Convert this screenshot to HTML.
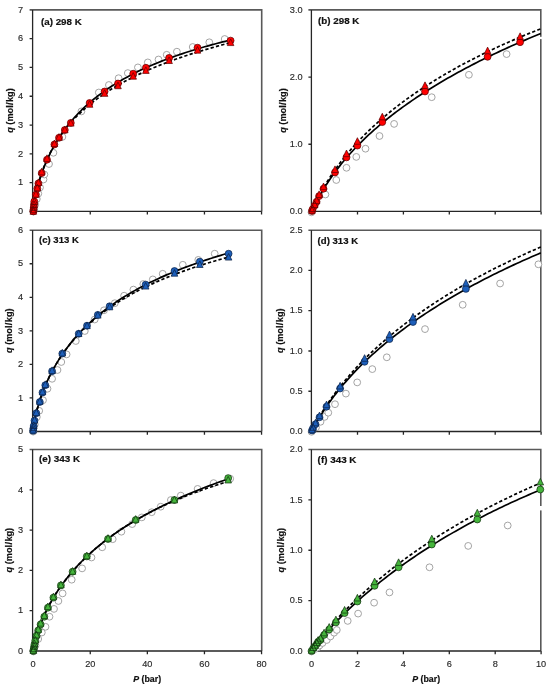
<!DOCTYPE html>
<html><head><meta charset="utf-8"><title>Isotherms</title><style>html,body{margin:0;padding:0;background:#fff;}svg{display:block;}</style></head><body>
<svg width="550" height="689" viewBox="0 0 550 689">
<rect width="550" height="689" fill="#fff"/>
<g><path d="M29.60 9.90 H261.70 V211.40" fill="none" stroke="#595959" stroke-width="1.6"/><path d="M29.60 211.40H32.60M29.60 182.61H32.60M29.60 153.83H32.60M29.60 125.04H32.60M29.60 96.26H32.60M29.60 67.47H32.60M29.60 38.69H32.60" stroke="#262626" stroke-width="1.3"/><path d="M90.25 211.40V214.60M147.35 211.40V214.60M204.45 211.40V214.60M261.55 211.40V214.60" stroke="#262626" stroke-width="1.3"/><path d="M32.60 9.90 V211.40 H261.70" fill="none" stroke="#262626" stroke-width="1.3"/><text x="23.20" y="214.10" text-anchor="end" font-family="Liberation Sans, sans-serif" font-size="9.2" fill="#2a2a2a" stroke="#2a2a2a" stroke-width="0.15">0</text><text x="23.20" y="185.31" text-anchor="end" font-family="Liberation Sans, sans-serif" font-size="9.2" fill="#2a2a2a" stroke="#2a2a2a" stroke-width="0.15">1</text><text x="23.20" y="156.53" text-anchor="end" font-family="Liberation Sans, sans-serif" font-size="9.2" fill="#2a2a2a" stroke="#2a2a2a" stroke-width="0.15">2</text><text x="23.20" y="127.74" text-anchor="end" font-family="Liberation Sans, sans-serif" font-size="9.2" fill="#2a2a2a" stroke="#2a2a2a" stroke-width="0.15">3</text><text x="23.20" y="98.96" text-anchor="end" font-family="Liberation Sans, sans-serif" font-size="9.2" fill="#2a2a2a" stroke="#2a2a2a" stroke-width="0.15">4</text><text x="23.20" y="70.17" text-anchor="end" font-family="Liberation Sans, sans-serif" font-size="9.2" fill="#2a2a2a" stroke="#2a2a2a" stroke-width="0.15">5</text><text x="23.20" y="41.39" text-anchor="end" font-family="Liberation Sans, sans-serif" font-size="9.2" fill="#2a2a2a" stroke="#2a2a2a" stroke-width="0.15">6</text><text x="23.20" y="12.60" text-anchor="end" font-family="Liberation Sans, sans-serif" font-size="9.2" fill="#2a2a2a" stroke="#2a2a2a" stroke-width="0.15">7</text><text transform="translate(12.50 132.85) rotate(-90)" font-size="9.2" font-family="Liberation Sans, sans-serif" font-weight="bold" fill="#111" stroke="#111" stroke-width="0.2"><tspan font-style="italic">q</tspan> (mol<tspan dx="0.35">/</tspan><tspan dx="0.35">kg)</tspan></text><text x="41.00" y="25.00" font-size="9.8" textLength="40.7" lengthAdjust="spacingAndGlyphs" font-family="Liberation Sans, sans-serif" font-weight="bold" fill="#111" stroke="#111" stroke-width="0.2">(a) 298 K</text><g fill="#fff" stroke="#9a9a9a" stroke-width="0.9"><circle cx="33.40" cy="211.60" r="3.4"/><circle cx="34.20" cy="208.50" r="3.4"/><circle cx="35.20" cy="204.50" r="3.4"/><circle cx="36.80" cy="199.00" r="3.4"/><circle cx="38.30" cy="193.60" r="3.4"/><circle cx="40.00" cy="187.50" r="3.4"/><circle cx="43.50" cy="179.50" r="3.4"/><circle cx="44.40" cy="174.50" r="3.4"/><circle cx="49.00" cy="164.00" r="3.4"/><circle cx="53.40" cy="152.80" r="3.4"/><circle cx="62.40" cy="136.90" r="3.4"/><circle cx="81.40" cy="111.40" r="3.4"/><circle cx="98.80" cy="92.50" r="3.4"/><circle cx="108.90" cy="85.00" r="3.4"/><circle cx="118.60" cy="78.20" r="3.4"/><circle cx="127.80" cy="73.10" r="3.4"/><circle cx="137.90" cy="67.40" r="3.4"/><circle cx="147.80" cy="62.40" r="3.4"/><circle cx="158.50" cy="59.50" r="3.4"/><circle cx="166.70" cy="54.80" r="3.4"/><circle cx="176.90" cy="51.70" r="3.4"/><circle cx="192.70" cy="47.00" r="3.4"/><circle cx="209.30" cy="42.30" r="3.4"/><circle cx="224.70" cy="39.00" r="3.4"/></g><path d="M33.15 211.40 L33.24 209.89 L33.44 207.96 L33.70 205.86 L34.02 203.66 L34.39 201.37 L34.81 199.04 L35.27 196.68 L35.78 194.29 L36.32 191.89 L36.90 189.48 L37.52 187.07 L38.18 184.66 L38.86 182.26 L39.58 179.88 L40.33 177.50 L41.11 175.14 L41.93 172.80 L42.77 170.48 L43.64 168.18 L44.53 165.91 L45.46 163.65 L46.41 161.42 L47.38 159.21 L48.39 157.03 L49.42 154.87 L50.47 152.74 L51.55 150.64 L52.65 148.56 L53.78 146.51 L54.93 144.48 L56.10 142.48 L57.29 140.51 L58.51 138.56 L59.75 136.64 L61.02 134.74 L62.30 132.87 L63.61 131.02 L64.94 129.20 L66.28 127.41 L67.65 125.64 L69.05 123.89 L70.46 122.17 L71.89 120.47 L73.34 118.80 L74.81 117.15 L76.30 115.52 L77.81 113.91 L79.34 112.33 L80.89 110.77 L82.46 109.23 L84.05 107.71 L85.65 106.21 L87.28 104.73 L88.92 103.28 L90.58 101.84 L92.26 100.42 L93.96 99.03 L95.68 97.65 L97.41 96.29 L99.16 94.95 L100.93 93.63 L102.72 92.33 L104.52 91.04 L106.34 89.77 L108.18 88.52 L110.04 87.28 L111.91 86.07 L113.80 84.86 L115.70 83.68 L117.63 82.51 L119.57 81.35 L121.52 80.21 L123.49 79.09 L125.48 77.98 L127.49 76.88 L129.51 75.80 L131.54 74.73 L133.60 73.68 L135.66 72.64 L137.75 71.61 L139.85 70.60 L141.96 69.60 L144.09 68.61 L146.24 67.64 L148.40 66.67 L150.58 65.72 L152.77 64.78 L154.98 63.86 L157.20 62.94 L159.44 62.04 L161.69 61.14 L163.96 60.26 L166.24 59.39 L168.54 58.53 L170.85 57.68 L173.18 56.84 L175.52 56.01 L177.88 55.18 L180.25 54.37 L182.63 53.57 L185.03 52.78 L187.44 52.00 L189.87 51.22 L192.31 50.46 L194.77 49.70 L197.24 48.96 L199.72 48.22 L202.22 47.49 L204.73 46.77 L207.25 46.06 L209.79 45.35 L212.35 44.65 L214.91 43.96 L217.49 43.28 L220.09 42.61 L222.70 41.94 L225.32 41.28 L227.95 40.63 L230.60 39.98" fill="none" stroke="#000" stroke-width="1.7"/><path d="M33.15 211.40 L33.24 210.45 L33.44 208.76 L33.70 206.73 L34.02 204.48 L34.39 202.11 L34.81 199.65 L35.27 197.14 L35.78 194.61 L36.32 192.06 L36.90 189.52 L37.52 186.98 L38.18 184.46 L38.86 181.97 L39.58 179.50 L40.33 177.05 L41.11 174.64 L41.93 172.26 L42.77 169.91 L43.64 167.59 L44.53 165.31 L45.46 163.06 L46.41 160.85 L47.38 158.67 L48.39 156.52 L49.42 154.40 L50.47 152.32 L51.55 150.28 L52.65 148.26 L53.78 146.27 L54.93 144.32 L56.10 142.39 L57.29 140.50 L58.51 138.63 L59.75 136.80 L61.02 134.99 L62.30 133.21 L63.61 131.45 L64.94 129.72 L66.28 128.02 L67.65 126.34 L69.05 124.69 L70.46 123.06 L71.89 121.46 L73.34 119.88 L74.81 118.32 L76.30 116.78 L77.81 115.26 L79.34 113.77 L80.89 112.29 L82.46 110.84 L84.05 109.41 L85.65 107.99 L87.28 106.59 L88.92 105.22 L90.58 103.86 L92.26 102.52 L93.96 101.19 L95.68 99.89 L97.41 98.60 L99.16 97.32 L100.93 96.07 L102.72 94.83 L104.52 93.60 L106.34 92.39 L108.18 91.19 L110.04 90.01 L111.91 88.84 L113.80 87.69 L115.70 86.55 L117.63 85.42 L119.57 84.31 L121.52 83.21 L123.49 82.12 L125.48 81.05 L127.49 79.99 L129.51 78.94 L131.54 77.90 L133.60 76.87 L135.66 75.85 L137.75 74.85 L139.85 73.86 L141.96 72.87 L144.09 71.90 L146.24 70.94 L148.40 69.99 L150.58 69.05 L152.77 68.12 L154.98 67.19 L157.20 66.28 L159.44 65.38 L161.69 64.48 L163.96 63.60 L166.24 62.72 L168.54 61.86 L170.85 61.00 L173.18 60.15 L175.52 59.31 L177.88 58.48 L180.25 57.65 L182.63 56.83 L185.03 56.02 L187.44 55.22 L189.87 54.43 L192.31 53.64 L194.77 52.86 L197.24 52.09 L199.72 51.33 L202.22 50.57 L204.73 49.82 L207.25 49.08 L209.79 48.34 L212.35 47.61 L214.91 46.89 L217.49 46.17 L220.09 45.46 L222.70 44.75 L225.32 44.05 L227.95 43.36 L230.60 42.68" fill="none" stroke="#000" stroke-width="1.7" stroke-dasharray="3.3 2.2"/><g fill="#ff0000" stroke="#5a0000" stroke-width="0.7"><circle cx="33.30" cy="211.30" r="3.45"/><circle cx="33.50" cy="209.60" r="3.45"/><circle cx="33.80" cy="207.20" r="3.45"/><circle cx="34.00" cy="204.40" r="3.45"/><circle cx="34.30" cy="201.50" r="3.45"/><circle cx="35.90" cy="194.60" r="3.45"/><circle cx="37.30" cy="188.60" r="3.45"/><circle cx="38.40" cy="183.40" r="3.45"/><circle cx="41.70" cy="173.10" r="3.45"/><circle cx="47.00" cy="159.70" r="3.45"/><circle cx="54.40" cy="144.50" r="3.45"/><circle cx="59.00" cy="137.80" r="3.45"/><circle cx="64.80" cy="130.00" r="3.45"/><circle cx="70.80" cy="122.90" r="3.45"/><circle cx="89.60" cy="103.00" r="3.45"/><circle cx="104.60" cy="91.50" r="3.45"/><circle cx="118.00" cy="83.50" r="3.45"/><circle cx="133.20" cy="73.70" r="3.45"/><circle cx="145.90" cy="67.80" r="3.45"/><circle cx="169.10" cy="57.90" r="3.45"/><circle cx="197.50" cy="47.70" r="3.45"/><circle cx="230.60" cy="40.60" r="3.45"/></g><path d="M30.00 214.26L33.30 207.66L36.60 214.26ZM30.20 212.73L33.50 206.13L36.80 212.73ZM30.50 210.36L33.80 203.76L37.10 210.36ZM30.70 207.53L34.00 200.93L37.30 207.53ZM31.00 204.56L34.30 197.96L37.60 204.56ZM32.60 197.19L35.90 190.59L39.20 197.19ZM34.00 190.86L37.30 184.26L40.60 190.86ZM35.10 185.47L38.40 178.87L41.70 185.47ZM38.40 174.86L41.70 168.26L45.00 174.86ZM43.70 161.44L47.00 154.84L50.30 161.44ZM51.10 146.60L54.40 140.00L57.70 146.60ZM55.70 140.21L59.00 133.61L62.30 140.21ZM61.50 132.81L64.80 126.21L68.10 132.81ZM67.50 126.12L70.80 119.52L74.10 126.12ZM86.30 107.27L89.60 100.67L92.90 107.27ZM101.30 96.36L104.60 89.76L107.90 96.36ZM114.70 88.73L118.00 82.13L121.30 88.73ZM129.90 79.18L133.20 72.58L136.50 79.18ZM142.60 73.40L145.90 66.80L149.20 73.40ZM165.80 63.53L169.10 56.93L172.40 63.53ZM194.20 53.13L197.50 46.53L200.80 53.13ZM227.30 45.59L230.60 38.99L233.90 45.59Z" fill="#ff0000" stroke="#5a0000" stroke-width="0.7"/></g>
<g><path d="M308.40 9.90 H540.80 V211.40" fill="none" stroke="#595959" stroke-width="1.6"/><path d="M308.40 211.40H311.40M308.40 144.23H311.40M308.40 77.07H311.40" stroke="#262626" stroke-width="1.3"/><path d="M357.50 211.40V214.60M403.40 211.40V214.60M449.30 211.40V214.60M495.20 211.40V214.60M541.10 211.40V214.60" stroke="#262626" stroke-width="1.3"/><path d="M311.40 9.90 V211.40 H540.80" fill="none" stroke="#262626" stroke-width="1.3"/><text x="302.60" y="214.10" text-anchor="end" font-family="Liberation Sans, sans-serif" font-size="9.2" fill="#2a2a2a" stroke="#2a2a2a" stroke-width="0.15">0.0</text><text x="302.60" y="146.93" text-anchor="end" font-family="Liberation Sans, sans-serif" font-size="9.2" fill="#2a2a2a" stroke="#2a2a2a" stroke-width="0.15">1.0</text><text x="302.60" y="79.77" text-anchor="end" font-family="Liberation Sans, sans-serif" font-size="9.2" fill="#2a2a2a" stroke="#2a2a2a" stroke-width="0.15">2.0</text><text x="302.60" y="12.60" text-anchor="end" font-family="Liberation Sans, sans-serif" font-size="9.2" fill="#2a2a2a" stroke="#2a2a2a" stroke-width="0.15">3.0</text><text transform="translate(286.20 132.85) rotate(-90)" font-size="9.2" font-family="Liberation Sans, sans-serif" font-weight="bold" fill="#111" stroke="#111" stroke-width="0.2"><tspan font-style="italic">q</tspan> (mol<tspan dx="0.35">/</tspan><tspan dx="0.35">kg)</tspan></text><text x="318.10" y="24.20" font-size="9.8" textLength="41.3" lengthAdjust="spacingAndGlyphs" font-family="Liberation Sans, sans-serif" font-weight="bold" fill="#111" stroke="#111" stroke-width="0.2">(b) 298 K</text><g fill="#fff" stroke="#9a9a9a" stroke-width="0.9"><circle cx="311.50" cy="212.30" r="3.4"/><circle cx="325.40" cy="194.50" r="3.4"/><circle cx="336.30" cy="180.00" r="3.4"/><circle cx="346.50" cy="167.80" r="3.4"/><circle cx="356.30" cy="156.90" r="3.4"/><circle cx="365.50" cy="148.70" r="3.4"/><circle cx="379.50" cy="136.00" r="3.4"/><circle cx="394.10" cy="123.90" r="3.4"/><circle cx="431.70" cy="97.20" r="3.4"/><circle cx="468.90" cy="74.80" r="3.4"/><circle cx="506.60" cy="54.10" r="3.4"/></g><path d="M311.60 211.40 L311.71 211.17 L311.93 210.70 L312.23 210.06 L312.61 209.28 L313.04 208.39 L313.52 207.40 L314.06 206.31 L314.65 205.14 L315.28 203.90 L315.96 202.59 L316.68 201.23 L317.43 199.81 L318.23 198.34 L319.07 196.83 L319.94 195.28 L320.85 193.70 L321.79 192.09 L322.76 190.45 L323.77 188.79 L324.81 187.11 L325.89 185.41 L326.99 183.70 L328.12 181.97 L329.29 180.23 L330.48 178.48 L331.70 176.73 L332.96 174.96 L334.24 173.20 L335.54 171.43 L336.88 169.66 L338.24 167.88 L339.63 166.11 L341.04 164.33 L342.48 162.56 L343.95 160.79 L345.44 159.02 L346.96 157.26 L348.50 155.49 L350.06 153.74 L351.65 151.98 L353.27 150.23 L354.91 148.49 L356.57 146.75 L358.25 145.02 L359.96 143.29 L361.69 141.57 L363.44 139.85 L365.22 138.14 L367.02 136.44 L368.84 134.74 L370.68 133.05 L372.55 131.37 L374.43 129.69 L376.34 128.02 L378.27 126.35 L380.22 124.70 L382.19 123.05 L384.18 121.40 L386.19 119.76 L388.23 118.13 L390.28 116.51 L392.35 114.89 L394.45 113.28 L396.56 111.68 L398.70 110.08 L400.85 108.49 L403.02 106.91 L405.22 105.33 L407.43 103.76 L409.66 102.20 L411.91 100.64 L414.18 99.09 L416.47 97.55 L418.78 96.01 L421.11 94.48 L423.45 92.96 L425.82 91.44 L428.20 89.93 L430.60 88.43 L433.02 86.93 L435.46 85.44 L437.91 83.96 L440.38 82.48 L442.88 81.01 L445.39 79.55 L447.91 78.09 L450.46 76.64 L453.02 75.19 L455.60 73.75 L458.20 72.32 L460.81 70.90 L463.44 69.48 L466.09 68.07 L468.76 66.66 L471.44 65.26 L474.14 63.87 L476.86 62.48 L479.60 61.10 L482.35 59.72 L485.12 58.35 L487.90 56.99 L490.70 55.64 L493.52 54.29 L496.35 52.94 L499.20 51.61 L502.07 50.28 L504.95 48.95 L507.85 47.63 L510.77 46.32 L513.70 45.01 L516.65 43.72 L519.61 42.42 L522.59 41.13 L525.59 39.85 L528.60 38.58 L531.63 37.31 L534.67 36.05 L537.73 34.79 L540.80 33.54" fill="none" stroke="#000" stroke-width="1.7"/><path d="M311.60 211.40 L311.71 211.15 L311.93 210.65 L312.23 209.97 L312.61 209.15 L313.04 208.20 L313.52 207.14 L314.06 205.98 L314.65 204.74 L315.28 203.42 L315.96 202.04 L316.68 200.59 L317.43 199.08 L318.23 197.53 L319.07 195.93 L319.94 194.29 L320.85 192.61 L321.79 190.91 L322.76 189.17 L323.77 187.42 L324.81 185.64 L325.89 183.84 L326.99 182.03 L328.12 180.20 L329.29 178.37 L330.48 176.52 L331.70 174.67 L332.96 172.81 L334.24 170.95 L335.54 169.09 L336.88 167.22 L338.24 165.35 L339.63 163.49 L341.04 161.62 L342.48 159.76 L343.95 157.90 L345.44 156.04 L346.96 154.19 L348.50 152.34 L350.06 150.50 L351.65 148.66 L353.27 146.83 L354.91 145.00 L356.57 143.18 L358.25 141.37 L359.96 139.57 L361.69 137.77 L363.44 135.98 L365.22 134.20 L367.02 132.42 L368.84 130.65 L370.68 128.89 L372.55 127.14 L374.43 125.40 L376.34 123.66 L378.27 121.94 L380.22 120.22 L382.19 118.51 L384.18 116.81 L386.19 115.12 L388.23 113.43 L390.28 111.76 L392.35 110.09 L394.45 108.43 L396.56 106.78 L398.70 105.14 L400.85 103.50 L403.02 101.88 L405.22 100.26 L407.43 98.65 L409.66 97.05 L411.91 95.46 L414.18 93.88 L416.47 92.31 L418.78 90.74 L421.11 89.19 L423.45 87.64 L425.82 86.10 L428.20 84.57 L430.60 83.04 L433.02 81.53 L435.46 80.02 L437.91 78.52 L440.38 77.03 L442.88 75.55 L445.39 74.08 L447.91 72.61 L450.46 71.16 L453.02 69.71 L455.60 68.27 L458.20 66.84 L460.81 65.41 L463.44 64.00 L466.09 62.59 L468.76 61.19 L471.44 59.80 L474.14 58.41 L476.86 57.04 L479.60 55.67 L482.35 54.31 L485.12 52.96 L487.90 51.61 L490.70 50.28 L493.52 48.95 L496.35 47.63 L499.20 46.32 L502.07 45.01 L504.95 43.72 L507.85 42.43 L510.77 41.15 L513.70 39.87 L516.65 38.61 L519.61 37.35 L522.59 36.10 L525.59 34.85 L528.60 33.62 L531.63 32.39 L534.67 31.17 L537.73 29.96 L540.80 28.75" fill="none" stroke="#000" stroke-width="1.7" stroke-dasharray="3.3 2.2"/><g fill="#ff0000" stroke="#5a0000" stroke-width="0.7"><circle cx="312.00" cy="211.00" r="3.45"/><circle cx="312.60" cy="209.30" r="3.45"/><circle cx="314.70" cy="205.60" r="3.45"/><circle cx="316.60" cy="201.80" r="3.45"/><circle cx="319.10" cy="196.10" r="3.45"/><circle cx="323.50" cy="188.70" r="3.45"/><circle cx="335.00" cy="172.50" r="3.45"/><circle cx="346.50" cy="157.40" r="3.45"/><circle cx="357.40" cy="145.60" r="3.45"/><circle cx="382.30" cy="122.10" r="3.45"/><circle cx="425.00" cy="91.50" r="3.45"/><circle cx="487.60" cy="56.80" r="3.45"/><circle cx="520.10" cy="42.20" r="3.45"/></g><path d="M308.70 213.25L312.00 206.65L315.30 213.25ZM309.30 211.46L312.60 204.86L315.90 211.46ZM311.40 207.50L314.70 200.90L318.00 207.50ZM313.30 203.47L316.60 196.87L319.90 203.47ZM315.80 197.49L319.10 190.89L322.40 197.49ZM320.20 189.65L323.50 183.05L326.80 189.65ZM331.70 172.50L335.00 165.90L338.30 172.50ZM343.20 156.66L346.50 150.06L349.80 156.66ZM354.10 144.29L357.40 137.69L360.70 144.29ZM379.00 119.86L382.30 113.26L385.60 119.86ZM421.70 88.46L425.00 81.86L428.30 88.46ZM484.30 53.72L487.60 47.12L490.90 53.72ZM516.80 39.43L520.10 32.83L523.40 39.43Z" fill="#ff0000" stroke="#5a0000" stroke-width="0.7"/></g>
<g><path d="M29.60 230.20 H261.70 V431.50" fill="none" stroke="#595959" stroke-width="1.6"/><path d="M29.60 431.50H32.60M29.60 397.95H32.60M29.60 364.40H32.60M29.60 330.85H32.60M29.60 297.30H32.60M29.60 263.75H32.60" stroke="#262626" stroke-width="1.3"/><path d="M90.25 431.50V434.70M147.35 431.50V434.70M204.45 431.50V434.70M261.55 431.50V434.70" stroke="#262626" stroke-width="1.3"/><path d="M32.60 230.20 V431.50 H261.70" fill="none" stroke="#262626" stroke-width="1.3"/><text x="23.20" y="434.20" text-anchor="end" font-family="Liberation Sans, sans-serif" font-size="9.2" fill="#2a2a2a" stroke="#2a2a2a" stroke-width="0.15">0</text><text x="23.20" y="400.65" text-anchor="end" font-family="Liberation Sans, sans-serif" font-size="9.2" fill="#2a2a2a" stroke="#2a2a2a" stroke-width="0.15">1</text><text x="23.20" y="367.10" text-anchor="end" font-family="Liberation Sans, sans-serif" font-size="9.2" fill="#2a2a2a" stroke="#2a2a2a" stroke-width="0.15">2</text><text x="23.20" y="333.55" text-anchor="end" font-family="Liberation Sans, sans-serif" font-size="9.2" fill="#2a2a2a" stroke="#2a2a2a" stroke-width="0.15">3</text><text x="23.20" y="300.00" text-anchor="end" font-family="Liberation Sans, sans-serif" font-size="9.2" fill="#2a2a2a" stroke="#2a2a2a" stroke-width="0.15">4</text><text x="23.20" y="266.45" text-anchor="end" font-family="Liberation Sans, sans-serif" font-size="9.2" fill="#2a2a2a" stroke="#2a2a2a" stroke-width="0.15">5</text><text x="23.20" y="232.90" text-anchor="end" font-family="Liberation Sans, sans-serif" font-size="9.2" fill="#2a2a2a" stroke="#2a2a2a" stroke-width="0.15">6</text><text transform="translate(12.40 353.05) rotate(-90)" font-size="9.2" font-family="Liberation Sans, sans-serif" font-weight="bold" fill="#111" stroke="#111" stroke-width="0.2"><tspan font-style="italic">q</tspan> (mol<tspan dx="0.35">/</tspan><tspan dx="0.35">kg)</tspan></text><text x="39.00" y="242.90" font-size="9.8" textLength="39.8" lengthAdjust="spacingAndGlyphs" font-family="Liberation Sans, sans-serif" font-weight="bold" fill="#111" stroke="#111" stroke-width="0.2">(c) 313 K</text><g fill="#fff" stroke="#9a9a9a" stroke-width="0.9"><circle cx="33.20" cy="431.60" r="3.4"/><circle cx="34.80" cy="424.50" r="3.4"/><circle cx="36.80" cy="417.00" r="3.4"/><circle cx="39.20" cy="410.80" r="3.4"/><circle cx="43.00" cy="400.20" r="3.4"/><circle cx="47.50" cy="388.70" r="3.4"/><circle cx="52.10" cy="378.80" r="3.4"/><circle cx="57.50" cy="370.00" r="3.4"/><circle cx="61.30" cy="362.00" r="3.4"/><circle cx="66.60" cy="354.40" r="3.4"/><circle cx="75.80" cy="341.00" r="3.4"/><circle cx="84.80" cy="331.00" r="3.4"/><circle cx="94.70" cy="319.50" r="3.4"/><circle cx="104.00" cy="310.30" r="3.4"/><circle cx="114.80" cy="303.20" r="3.4"/><circle cx="124.10" cy="295.70" r="3.4"/><circle cx="133.40" cy="289.60" r="3.4"/><circle cx="143.30" cy="284.00" r="3.4"/><circle cx="152.80" cy="279.40" r="3.4"/><circle cx="162.70" cy="273.80" r="3.4"/><circle cx="182.80" cy="264.80" r="3.4"/><circle cx="198.30" cy="259.90" r="3.4"/><circle cx="214.70" cy="253.70" r="3.4"/></g><path d="M33.15 431.50 L33.24 430.01 L33.43 428.15 L33.69 426.14 L34.01 424.03 L34.38 421.86 L34.79 419.64 L35.25 417.38 L35.75 415.11 L36.29 412.82 L36.87 410.52 L37.48 408.21 L38.13 405.91 L38.81 403.61 L39.52 401.31 L40.26 399.02 L41.03 396.75 L41.84 394.48 L42.67 392.23 L43.53 389.99 L44.42 387.77 L45.33 385.56 L46.27 383.38 L47.24 381.21 L48.23 379.06 L49.25 376.93 L50.29 374.82 L51.36 372.72 L52.45 370.65 L53.57 368.60 L54.71 366.57 L55.87 364.57 L57.05 362.58 L58.26 360.61 L59.48 358.67 L60.73 356.74 L62.01 354.84 L63.30 352.96 L64.61 351.10 L65.95 349.26 L67.31 347.44 L68.68 345.64 L70.08 343.86 L71.50 342.10 L72.93 340.36 L74.39 338.64 L75.86 336.94 L77.36 335.26 L78.87 333.60 L80.41 331.96 L81.96 330.34 L83.53 328.74 L85.12 327.15 L86.73 325.59 L88.36 324.04 L90.00 322.51 L91.66 321.00 L93.34 319.50 L95.04 318.03 L96.76 316.56 L98.49 315.12 L100.24 313.69 L102.01 312.28 L103.80 310.89 L105.60 309.51 L107.42 308.15 L109.26 306.80 L111.11 305.47 L112.98 304.16 L114.87 302.85 L116.77 301.57 L118.69 300.30 L120.63 299.04 L122.58 297.80 L124.55 296.57 L126.53 295.35 L128.53 294.15 L130.55 292.96 L132.58 291.79 L134.63 290.62 L136.69 289.47 L138.77 288.34 L140.86 287.21 L142.97 286.10 L145.10 285.00 L147.24 283.91 L149.39 282.84 L151.56 281.78 L153.75 280.72 L155.95 279.68 L158.16 278.65 L160.39 277.63 L162.64 276.62 L164.89 275.63 L167.17 274.64 L169.46 273.66 L171.76 272.70 L174.08 271.74 L176.41 270.80 L178.76 269.86 L181.12 268.94 L183.49 268.02 L185.88 267.11 L188.28 266.21 L190.70 265.33 L193.13 264.45 L195.57 263.58 L198.03 262.71 L200.50 261.86 L202.99 261.02 L205.49 260.18 L208.00 259.35 L210.53 258.53 L213.07 257.72 L215.63 256.92 L218.19 256.13 L220.78 255.34 L223.37 254.56 L225.98 253.79 L228.60 253.02" fill="none" stroke="#000" stroke-width="1.7"/><path d="M33.15 431.50 L33.24 430.06 L33.43 428.23 L33.69 426.23 L34.01 424.13 L34.38 421.96 L34.79 419.74 L35.25 417.48 L35.75 415.20 L36.29 412.90 L36.87 410.59 L37.48 408.27 L38.13 405.95 L38.81 403.64 L39.52 401.33 L40.26 399.03 L41.03 396.75 L41.84 394.47 L42.67 392.21 L43.53 389.97 L44.42 387.74 L45.33 385.53 L46.27 383.34 L47.24 381.17 L48.23 379.02 L49.25 376.89 L50.29 374.78 L51.36 372.70 L52.45 370.64 L53.57 368.59 L54.71 366.58 L55.87 364.58 L57.05 362.61 L58.26 360.65 L59.48 358.73 L60.73 356.82 L62.01 354.94 L63.30 353.08 L64.61 351.24 L65.95 349.42 L67.31 347.63 L68.68 345.85 L70.08 344.10 L71.50 342.37 L72.93 340.67 L74.39 338.98 L75.86 337.31 L77.36 335.67 L78.87 334.04 L80.41 332.44 L81.96 330.85 L83.53 329.29 L85.12 327.75 L86.73 326.22 L88.36 324.71 L90.00 323.22 L91.66 321.75 L93.34 320.30 L95.04 318.87 L96.76 317.45 L98.49 316.06 L100.24 314.68 L102.01 313.31 L103.80 311.97 L105.60 310.64 L107.42 309.32 L109.26 308.02 L111.11 306.74 L112.98 305.48 L114.87 304.23 L116.77 302.99 L118.69 301.77 L120.63 300.57 L122.58 299.37 L124.55 298.20 L126.53 297.04 L128.53 295.89 L130.55 294.75 L132.58 293.63 L134.63 292.52 L136.69 291.43 L138.77 290.34 L140.86 289.27 L142.97 288.22 L145.10 287.17 L147.24 286.14 L149.39 285.12 L151.56 284.11 L153.75 283.11 L155.95 282.13 L158.16 281.15 L160.39 280.19 L162.64 279.24 L164.89 278.30 L167.17 277.37 L169.46 276.45 L171.76 275.54 L174.08 274.64 L176.41 273.75 L178.76 272.87 L181.12 272.00 L183.49 271.14 L185.88 270.28 L188.28 269.44 L190.70 268.61 L193.13 267.79 L195.57 266.97 L198.03 266.16 L200.50 265.37 L202.99 264.58 L205.49 263.80 L208.00 263.03 L210.53 262.26 L213.07 261.50 L215.63 260.76 L218.19 260.02 L220.78 259.28 L223.37 258.56 L225.98 257.84 L228.60 257.13" fill="none" stroke="#000" stroke-width="1.7" stroke-dasharray="3.3 2.2"/><g fill="#1d5fba" stroke="#0a1f44" stroke-width="0.7"><circle cx="33.10" cy="430.70" r="3.45"/><circle cx="33.40" cy="428.30" r="3.45"/><circle cx="33.70" cy="426.00" r="3.45"/><circle cx="34.50" cy="420.60" r="3.45"/><circle cx="36.30" cy="413.20" r="3.45"/><circle cx="39.80" cy="402.00" r="3.45"/><circle cx="42.50" cy="392.50" r="3.45"/><circle cx="45.30" cy="385.20" r="3.45"/><circle cx="52.10" cy="371.20" r="3.45"/><circle cx="62.30" cy="353.60" r="3.45"/><circle cx="78.70" cy="333.80" r="3.45"/><circle cx="87.00" cy="325.70" r="3.45"/><circle cx="97.80" cy="314.90" r="3.45"/><circle cx="109.60" cy="306.30" r="3.45"/><circle cx="145.70" cy="284.60" r="3.45"/><circle cx="174.50" cy="271.00" r="3.45"/><circle cx="199.80" cy="261.70" r="3.45"/><circle cx="228.60" cy="253.70" r="3.45"/></g><path d="M29.80 433.00L33.10 426.40L36.40 433.00ZM30.10 430.68L33.40 424.08L36.70 430.68ZM30.40 428.40L33.70 421.80L37.00 428.40ZM31.20 423.01L34.50 416.41L37.80 423.01ZM33.00 415.58L36.30 408.98L39.60 415.58ZM36.50 404.32L39.80 397.72L43.10 404.32ZM39.20 394.78L42.50 388.18L45.80 394.78ZM42.00 387.47L45.30 380.87L48.60 387.47ZM48.80 373.48L52.10 366.88L55.40 373.48ZM59.00 356.00L62.30 349.40L65.60 356.00ZM75.40 336.54L78.70 329.94L82.00 336.54ZM83.70 328.64L87.00 322.04L90.30 328.64ZM94.50 318.12L97.80 311.52L101.10 318.12ZM106.30 309.83L109.60 303.23L112.90 309.83ZM142.40 289.09L145.70 282.49L149.00 289.09ZM171.20 276.20L174.50 269.60L177.80 276.20ZM196.50 267.49L199.80 260.89L203.10 267.49ZM225.30 260.11L228.60 253.51L231.90 260.11Z" fill="#1d5fba" stroke="#0a1f44" stroke-width="0.7"/></g>
<g><path d="M308.40 230.20 H540.80 V431.50" fill="none" stroke="#595959" stroke-width="1.6"/><path d="M308.40 431.50H311.40M308.40 391.24H311.40M308.40 350.98H311.40M308.40 310.72H311.40M308.40 270.46H311.40" stroke="#262626" stroke-width="1.3"/><path d="M357.50 431.50V434.70M403.40 431.50V434.70M449.30 431.50V434.70M495.20 431.50V434.70M541.10 431.50V434.70" stroke="#262626" stroke-width="1.3"/><path d="M311.40 230.20 V431.50 H540.80" fill="none" stroke="#262626" stroke-width="1.3"/><text x="302.60" y="434.20" text-anchor="end" font-family="Liberation Sans, sans-serif" font-size="9.2" fill="#2a2a2a" stroke="#2a2a2a" stroke-width="0.15">0.0</text><text x="302.60" y="393.94" text-anchor="end" font-family="Liberation Sans, sans-serif" font-size="9.2" fill="#2a2a2a" stroke="#2a2a2a" stroke-width="0.15">0.5</text><text x="302.60" y="353.68" text-anchor="end" font-family="Liberation Sans, sans-serif" font-size="9.2" fill="#2a2a2a" stroke="#2a2a2a" stroke-width="0.15">1.0</text><text x="302.60" y="313.42" text-anchor="end" font-family="Liberation Sans, sans-serif" font-size="9.2" fill="#2a2a2a" stroke="#2a2a2a" stroke-width="0.15">1.5</text><text x="302.60" y="273.16" text-anchor="end" font-family="Liberation Sans, sans-serif" font-size="9.2" fill="#2a2a2a" stroke="#2a2a2a" stroke-width="0.15">2.0</text><text x="302.60" y="232.90" text-anchor="end" font-family="Liberation Sans, sans-serif" font-size="9.2" fill="#2a2a2a" stroke="#2a2a2a" stroke-width="0.15">2.5</text><text transform="translate(283.20 353.05) rotate(-90)" font-size="9.2" font-family="Liberation Sans, sans-serif" font-weight="bold" fill="#111" stroke="#111" stroke-width="0.2"><tspan font-style="italic">q</tspan> (mol<tspan dx="0.35">/</tspan><tspan dx="0.35">kg)</tspan></text><text x="317.60" y="244.20" font-size="9.8" textLength="40.5" lengthAdjust="spacingAndGlyphs" font-family="Liberation Sans, sans-serif" font-weight="bold" fill="#111" stroke="#111" stroke-width="0.2">(d) 313 K</text><g fill="#fff" stroke="#9a9a9a" stroke-width="0.9"><circle cx="311.60" cy="431.80" r="3.4"/><circle cx="316.00" cy="427.50" r="3.4"/><circle cx="320.50" cy="421.80" r="3.4"/><circle cx="324.60" cy="416.90" r="3.4"/><circle cx="328.30" cy="412.70" r="3.4"/><circle cx="335.00" cy="404.20" r="3.4"/><circle cx="345.90" cy="393.60" r="3.4"/><circle cx="357.20" cy="382.40" r="3.4"/><circle cx="372.30" cy="369.10" r="3.4"/><circle cx="386.80" cy="357.30" r="3.4"/><circle cx="425.00" cy="329.10" r="3.4"/><circle cx="462.70" cy="304.80" r="3.4"/><circle cx="500.10" cy="283.50" r="3.4"/><circle cx="538.40" cy="264.30" r="3.4"/></g><path d="M311.60 431.50 L311.71 431.29 L311.93 430.86 L312.23 430.28 L312.61 429.58 L313.04 428.76 L313.52 427.86 L314.06 426.87 L314.65 425.80 L315.28 424.66 L315.96 423.46 L316.68 422.20 L317.43 420.90 L318.23 419.54 L319.07 418.14 L319.94 416.71 L320.85 415.24 L321.79 413.74 L322.76 412.21 L323.77 410.65 L324.81 409.07 L325.89 407.47 L326.99 405.85 L328.12 404.21 L329.29 402.56 L330.48 400.90 L331.70 399.22 L332.96 397.53 L334.24 395.84 L335.54 394.14 L336.88 392.43 L338.24 390.71 L339.63 388.99 L341.04 387.27 L342.48 385.54 L343.95 383.81 L345.44 382.08 L346.96 380.34 L348.50 378.61 L350.06 376.88 L351.65 375.14 L353.27 373.41 L354.91 371.68 L356.57 369.95 L358.25 368.22 L359.96 366.49 L361.69 364.77 L363.44 363.05 L365.22 361.33 L367.02 359.61 L368.84 357.90 L370.68 356.19 L372.55 354.49 L374.43 352.79 L376.34 351.09 L378.27 349.40 L380.22 347.71 L382.19 346.02 L384.18 344.34 L386.19 342.67 L388.23 341.00 L390.28 339.33 L392.35 337.67 L394.45 336.02 L396.56 334.37 L398.70 332.72 L400.85 331.08 L403.02 329.45 L405.22 327.82 L407.43 326.19 L409.66 324.58 L411.91 322.96 L414.18 321.36 L416.47 319.76 L418.78 318.16 L421.11 316.57 L423.45 314.99 L425.82 313.41 L428.20 311.84 L430.60 310.27 L433.02 308.71 L435.46 307.16 L437.91 305.61 L440.38 304.07 L442.88 302.54 L445.39 301.01 L447.91 299.48 L450.46 297.97 L453.02 296.46 L455.60 294.96 L458.20 293.46 L460.81 291.97 L463.44 290.48 L466.09 289.01 L468.76 287.53 L471.44 286.07 L474.14 284.61 L476.86 283.16 L479.60 281.72 L482.35 280.28 L485.12 278.84 L487.90 277.42 L490.70 276.00 L493.52 274.59 L496.35 273.18 L499.20 271.78 L502.07 270.39 L504.95 269.01 L507.85 267.63 L510.77 266.26 L513.70 264.89 L516.65 263.53 L519.61 262.18 L522.59 260.83 L525.59 259.49 L528.60 258.16 L531.63 256.84 L534.67 255.52 L537.73 254.21 L540.80 252.90" fill="none" stroke="#000" stroke-width="1.7"/><path d="M311.60 431.50 L311.71 431.25 L311.93 430.77 L312.23 430.11 L312.61 429.33 L313.04 428.44 L313.52 427.45 L314.06 426.38 L314.65 425.24 L315.28 424.03 L315.96 422.77 L316.68 421.45 L317.43 420.08 L318.23 418.67 L319.07 417.22 L319.94 415.73 L320.85 414.21 L321.79 412.66 L322.76 411.08 L323.77 409.48 L324.81 407.85 L325.89 406.21 L326.99 404.54 L328.12 402.86 L329.29 401.16 L330.48 399.45 L331.70 397.72 L332.96 395.99 L334.24 394.24 L335.54 392.48 L336.88 390.72 L338.24 388.95 L339.63 387.17 L341.04 385.39 L342.48 383.61 L343.95 381.82 L345.44 380.02 L346.96 378.23 L348.50 376.43 L350.06 374.63 L351.65 372.83 L353.27 371.03 L354.91 369.23 L356.57 367.44 L358.25 365.64 L359.96 363.85 L361.69 362.05 L363.44 360.26 L365.22 358.48 L367.02 356.69 L368.84 354.91 L370.68 353.13 L372.55 351.36 L374.43 349.59 L376.34 347.83 L378.27 346.07 L380.22 344.31 L382.19 342.56 L384.18 340.81 L386.19 339.07 L388.23 337.34 L390.28 335.61 L392.35 333.89 L394.45 332.17 L396.56 330.46 L398.70 328.76 L400.85 327.06 L403.02 325.36 L405.22 323.68 L407.43 322.00 L409.66 320.33 L411.91 318.66 L414.18 317.00 L416.47 315.35 L418.78 313.70 L421.11 312.06 L423.45 310.43 L425.82 308.81 L428.20 307.19 L430.60 305.58 L433.02 303.98 L435.46 302.38 L437.91 300.79 L440.38 299.21 L442.88 297.63 L445.39 296.07 L447.91 294.51 L450.46 292.95 L453.02 291.41 L455.60 289.87 L458.20 288.33 L460.81 286.81 L463.44 285.29 L466.09 283.78 L468.76 282.28 L471.44 280.78 L474.14 279.30 L476.86 277.81 L479.60 276.34 L482.35 274.87 L485.12 273.41 L487.90 271.96 L490.70 270.51 L493.52 269.07 L496.35 267.64 L499.20 266.22 L502.07 264.80 L504.95 263.39 L507.85 261.99 L510.77 260.59 L513.70 259.20 L516.65 257.82 L519.61 256.44 L522.59 255.07 L525.59 253.71 L528.60 252.35 L531.63 251.00 L534.67 249.66 L537.73 248.32 L540.80 247.00" fill="none" stroke="#000" stroke-width="1.7" stroke-dasharray="3.3 2.2"/><g fill="#1d5fba" stroke="#0a1f44" stroke-width="0.7"><circle cx="312.00" cy="430.50" r="3.45"/><circle cx="313.00" cy="428.30" r="3.45"/><circle cx="315.50" cy="424.20" r="3.45"/><circle cx="319.50" cy="417.30" r="3.45"/><circle cx="326.50" cy="406.70" r="3.45"/><circle cx="340.10" cy="388.50" r="3.45"/><circle cx="364.60" cy="361.80" r="3.45"/><circle cx="389.50" cy="339.10" r="3.45"/><circle cx="413.00" cy="322.00" r="3.45"/><circle cx="465.90" cy="288.90" r="3.45"/></g><path d="M308.70 432.69L312.00 426.09L315.30 432.69ZM309.70 430.28L313.00 423.68L316.30 430.28ZM312.20 425.85L315.50 419.25L318.80 425.85ZM316.20 418.65L319.50 412.05L322.80 418.65ZM323.20 407.71L326.50 401.11L329.80 407.71ZM336.80 388.96L340.10 382.36L343.40 388.96ZM361.30 361.27L364.60 354.67L367.90 361.27ZM386.20 337.70L389.50 331.10L392.80 337.70ZM409.70 319.97L413.00 313.37L416.30 319.97ZM462.60 285.98L465.90 279.38L469.20 285.98Z" fill="#1d5fba" stroke="#0a1f44" stroke-width="0.7"/></g>
<g><path d="M29.60 449.50 H261.70 V651.00" fill="none" stroke="#595959" stroke-width="1.6"/><path d="M29.60 651.00H32.60M29.60 610.70H32.60M29.60 570.40H32.60M29.60 530.10H32.60M29.60 489.80H32.60" stroke="#262626" stroke-width="1.3"/><path d="M90.25 651.00V654.20M147.35 651.00V654.20M204.45 651.00V654.20M261.55 651.00V654.20" stroke="#262626" stroke-width="1.3"/><path d="M32.60 449.50 V651.00 H261.70" fill="none" stroke="#262626" stroke-width="1.3"/><text x="23.20" y="653.70" text-anchor="end" font-family="Liberation Sans, sans-serif" font-size="9.2" fill="#2a2a2a" stroke="#2a2a2a" stroke-width="0.15">0</text><text x="23.20" y="613.40" text-anchor="end" font-family="Liberation Sans, sans-serif" font-size="9.2" fill="#2a2a2a" stroke="#2a2a2a" stroke-width="0.15">1</text><text x="23.20" y="573.10" text-anchor="end" font-family="Liberation Sans, sans-serif" font-size="9.2" fill="#2a2a2a" stroke="#2a2a2a" stroke-width="0.15">2</text><text x="23.20" y="532.80" text-anchor="end" font-family="Liberation Sans, sans-serif" font-size="9.2" fill="#2a2a2a" stroke="#2a2a2a" stroke-width="0.15">3</text><text x="23.20" y="492.50" text-anchor="end" font-family="Liberation Sans, sans-serif" font-size="9.2" fill="#2a2a2a" stroke="#2a2a2a" stroke-width="0.15">4</text><text x="23.20" y="452.20" text-anchor="end" font-family="Liberation Sans, sans-serif" font-size="9.2" fill="#2a2a2a" stroke="#2a2a2a" stroke-width="0.15">5</text><text x="33.15" y="666.60" text-anchor="middle" font-family="Liberation Sans, sans-serif" font-size="9.2" fill="#2a2a2a" stroke="#2a2a2a" stroke-width="0.15">0</text><text x="90.25" y="666.60" text-anchor="middle" font-family="Liberation Sans, sans-serif" font-size="9.2" fill="#2a2a2a" stroke="#2a2a2a" stroke-width="0.15">20</text><text x="147.35" y="666.60" text-anchor="middle" font-family="Liberation Sans, sans-serif" font-size="9.2" fill="#2a2a2a" stroke="#2a2a2a" stroke-width="0.15">40</text><text x="204.45" y="666.60" text-anchor="middle" font-family="Liberation Sans, sans-serif" font-size="9.2" fill="#2a2a2a" stroke="#2a2a2a" stroke-width="0.15">60</text><text x="261.55" y="666.60" text-anchor="middle" font-family="Liberation Sans, sans-serif" font-size="9.2" fill="#2a2a2a" stroke="#2a2a2a" stroke-width="0.15">80</text><text x="133.25" y="682.3" font-size="8.8" font-family="Liberation Sans, sans-serif" font-weight="bold" fill="#111" stroke="#111" stroke-width="0.2"><tspan font-style="italic">P</tspan> (bar)</text><text transform="translate(12.20 572.45) rotate(-90)" font-size="9.2" font-family="Liberation Sans, sans-serif" font-weight="bold" fill="#111" stroke="#111" stroke-width="0.2"><tspan font-style="italic">q</tspan> (mol<tspan dx="0.35">/</tspan><tspan dx="0.35">kg)</tspan></text><text x="39.00" y="462.00" font-size="9.8" textLength="41.1" lengthAdjust="spacingAndGlyphs" font-family="Liberation Sans, sans-serif" font-weight="bold" fill="#111" stroke="#111" stroke-width="0.2">(e) 343 K</text><g fill="#fff" stroke="#9a9a9a" stroke-width="0.9"><circle cx="33.50" cy="651.50" r="3.4"/><circle cx="35.50" cy="645.50" r="3.4"/><circle cx="38.20" cy="639.00" r="3.4"/><circle cx="41.80" cy="632.50" r="3.4"/><circle cx="45.50" cy="626.80" r="3.4"/><circle cx="49.50" cy="616.70" r="3.4"/><circle cx="54.00" cy="608.90" r="3.4"/><circle cx="58.40" cy="601.00" r="3.4"/><circle cx="62.60" cy="593.40" r="3.4"/><circle cx="71.70" cy="579.70" r="3.4"/><circle cx="82.10" cy="568.40" r="3.4"/><circle cx="91.50" cy="557.50" r="3.4"/><circle cx="102.20" cy="547.30" r="3.4"/><circle cx="112.70" cy="539.20" r="3.4"/><circle cx="121.40" cy="531.70" r="3.4"/><circle cx="132.20" cy="524.10" r="3.4"/><circle cx="141.80" cy="517.40" r="3.4"/><circle cx="151.70" cy="512.20" r="3.4"/><circle cx="160.70" cy="506.70" r="3.4"/><circle cx="170.90" cy="500.00" r="3.4"/><circle cx="180.80" cy="495.60" r="3.4"/><circle cx="197.60" cy="488.90" r="3.4"/><circle cx="213.60" cy="483.10" r="3.4"/><circle cx="230.20" cy="478.70" r="3.4"/></g><path d="M33.15 651.00 L33.24 650.41 L33.43 649.33 L33.69 647.98 L34.01 646.44 L34.37 644.78 L34.79 643.01 L35.25 641.17 L35.75 639.28 L36.28 637.34 L36.86 635.37 L37.47 633.37 L38.12 631.36 L38.79 629.33 L39.50 627.30 L40.25 625.27 L41.02 623.23 L41.82 621.20 L42.65 619.17 L43.51 617.15 L44.39 615.14 L45.31 613.14 L46.25 611.14 L47.21 609.16 L48.20 607.19 L49.22 605.24 L50.26 603.30 L51.32 601.37 L52.41 599.46 L53.53 597.56 L54.66 595.68 L55.82 593.81 L57.00 591.96 L58.20 590.12 L59.43 588.30 L60.68 586.50 L61.95 584.71 L63.24 582.93 L64.55 581.18 L65.88 579.43 L67.24 577.71 L68.61 576.00 L70.00 574.30 L71.42 572.62 L72.85 570.95 L74.30 569.30 L75.78 567.67 L77.27 566.04 L78.78 564.44 L80.31 562.85 L81.86 561.27 L83.43 559.71 L85.02 558.16 L86.62 556.62 L88.24 555.10 L89.89 553.59 L91.54 552.09 L93.22 550.61 L94.92 549.14 L96.63 547.69 L98.36 546.24 L100.11 544.81 L101.87 543.40 L103.65 541.99 L105.45 540.60 L107.27 539.21 L109.10 537.84 L110.95 536.49 L112.82 535.14 L114.70 533.80 L116.60 532.48 L118.52 531.17 L120.45 529.87 L122.40 528.57 L124.36 527.29 L126.34 526.02 L128.34 524.77 L130.35 523.52 L132.38 522.28 L134.42 521.05 L136.48 519.83 L138.55 518.62 L140.64 517.42 L142.75 516.23 L144.87 515.05 L147.00 513.88 L149.15 512.72 L151.32 511.57 L153.50 510.42 L155.69 509.29 L157.91 508.16 L160.13 507.04 L162.37 505.94 L164.63 504.83 L166.89 503.74 L169.18 502.66 L171.48 501.58 L173.79 500.52 L176.12 499.46 L178.46 498.40 L180.81 497.36 L183.18 496.32 L185.57 495.30 L187.96 494.27 L190.38 493.26 L192.80 492.25 L195.24 491.25 L197.70 490.26 L200.16 489.28 L202.64 488.30 L205.14 487.33 L207.65 486.36 L210.17 485.41 L212.70 484.45 L215.25 483.51 L217.82 482.57 L220.39 481.64 L222.98 480.72 L225.58 479.80 L228.20 478.88" fill="none" stroke="#000" stroke-width="1.7"/><path d="M33.15 651.00 L33.24 650.50 L33.43 649.52 L33.69 648.21 L34.01 646.68 L34.37 644.97 L34.79 643.13 L35.25 641.20 L35.75 639.21 L36.28 637.17 L36.86 635.11 L37.47 633.03 L38.12 630.94 L38.79 628.86 L39.50 626.78 L40.25 624.72 L41.02 622.67 L41.82 620.63 L42.65 618.61 L43.51 616.60 L44.39 614.61 L45.31 612.64 L46.25 610.69 L47.21 608.75 L48.20 606.82 L49.22 604.91 L50.26 603.02 L51.32 601.14 L52.41 599.27 L53.53 597.42 L54.66 595.58 L55.82 593.76 L57.00 591.95 L58.20 590.15 L59.43 588.36 L60.68 586.59 L61.95 584.83 L63.24 583.08 L64.55 581.34 L65.88 579.61 L67.24 577.90 L68.61 576.20 L70.00 574.51 L71.42 572.84 L72.85 571.17 L74.30 569.52 L75.78 567.88 L77.27 566.25 L78.78 564.64 L80.31 563.04 L81.86 561.45 L83.43 559.87 L85.02 558.31 L86.62 556.76 L88.24 555.22 L89.89 553.69 L91.54 552.18 L93.22 550.68 L94.92 549.20 L96.63 547.72 L98.36 546.26 L100.11 544.81 L101.87 543.38 L103.65 541.96 L105.45 540.55 L107.27 539.15 L109.10 537.77 L110.95 536.40 L112.82 535.04 L114.70 533.70 L116.60 532.37 L118.52 531.05 L120.45 529.75 L122.40 528.45 L124.36 527.17 L126.34 525.91 L128.34 524.65 L130.35 523.41 L132.38 522.18 L134.42 520.96 L136.48 519.76 L138.55 518.56 L140.64 517.38 L142.75 516.22 L144.87 515.06 L147.00 513.92 L149.15 512.78 L151.32 511.66 L153.50 510.55 L155.69 509.46 L157.91 508.37 L160.13 507.30 L162.37 506.23 L164.63 505.18 L166.89 504.14 L169.18 503.11 L171.48 502.09 L173.79 501.09 L176.12 500.09 L178.46 499.10 L180.81 498.13 L183.18 497.16 L185.57 496.21 L187.96 495.26 L190.38 494.33 L192.80 493.40 L195.24 492.49 L197.70 491.58 L200.16 490.69 L202.64 489.80 L205.14 488.93 L207.65 488.06 L210.17 487.20 L212.70 486.36 L215.25 485.52 L217.82 484.69 L220.39 483.87 L222.98 483.05 L225.58 482.25 L228.20 481.46" fill="none" stroke="#000" stroke-width="1.7" stroke-dasharray="3.3 2.2"/><g fill="#45b53c" stroke="#0f2e0c" stroke-width="0.7"><circle cx="33.30" cy="651.00" r="3.45"/><circle cx="33.70" cy="649.20" r="3.45"/><circle cx="34.10" cy="646.70" r="3.45"/><circle cx="34.50" cy="644.30" r="3.45"/><circle cx="35.30" cy="640.70" r="3.45"/><circle cx="36.50" cy="635.80" r="3.45"/><circle cx="38.20" cy="630.50" r="3.45"/><circle cx="40.60" cy="624.40" r="3.45"/><circle cx="44.30" cy="616.70" r="3.45"/><circle cx="47.90" cy="607.70" r="3.45"/><circle cx="53.40" cy="597.60" r="3.45"/><circle cx="60.90" cy="585.40" r="3.45"/><circle cx="72.60" cy="571.70" r="3.45"/><circle cx="86.80" cy="556.40" r="3.45"/><circle cx="108.00" cy="539.00" r="3.45"/><circle cx="135.70" cy="520.00" r="3.45"/><circle cx="174.40" cy="500.00" r="3.45"/><circle cx="228.20" cy="478.10" r="3.45"/></g><path d="M30.00 653.43L33.30 646.83L36.60 653.43ZM30.40 651.74L33.70 645.14L37.00 651.74ZM30.80 649.23L34.10 642.63L37.40 649.23ZM31.20 646.77L34.50 640.17L37.80 646.77ZM32.00 643.02L35.30 636.42L38.60 643.02ZM33.20 637.90L36.50 631.30L39.80 637.90ZM34.90 632.38L38.20 625.78L41.50 632.38ZM37.30 626.14L40.60 619.54L43.90 626.14ZM41.00 618.47L44.30 611.87L47.60 618.47ZM44.60 609.61L47.90 603.01L51.20 609.61ZM50.10 599.76L53.40 593.16L56.70 599.76ZM57.60 587.80L60.90 581.20L64.20 587.80ZM69.30 574.22L72.60 567.62L75.90 574.22ZM83.50 558.84L86.80 552.24L90.10 558.84ZM104.70 541.23L108.00 534.63L111.30 541.23ZM132.40 522.22L135.70 515.62L139.00 522.22ZM171.10 502.89L174.40 496.29L177.70 502.89ZM224.90 482.97L228.20 476.37L231.50 482.97Z" fill="#45b53c" stroke="#0f2e0c" stroke-width="0.7"/></g>
<g><path d="M308.40 449.50 H540.80 V651.00" fill="none" stroke="#595959" stroke-width="1.6"/><path d="M308.40 651.00H311.40M308.40 600.62H311.40M308.40 550.25H311.40M308.40 499.88H311.40" stroke="#262626" stroke-width="1.3"/><path d="M357.50 651.00V654.20M403.40 651.00V654.20M449.30 651.00V654.20M495.20 651.00V654.20M541.10 651.00V654.20" stroke="#262626" stroke-width="1.3"/><path d="M311.40 449.50 V651.00 H540.80" fill="none" stroke="#262626" stroke-width="1.3"/><text x="302.60" y="653.70" text-anchor="end" font-family="Liberation Sans, sans-serif" font-size="9.2" fill="#2a2a2a" stroke="#2a2a2a" stroke-width="0.15">0.0</text><text x="302.60" y="603.33" text-anchor="end" font-family="Liberation Sans, sans-serif" font-size="9.2" fill="#2a2a2a" stroke="#2a2a2a" stroke-width="0.15">0.5</text><text x="302.60" y="552.95" text-anchor="end" font-family="Liberation Sans, sans-serif" font-size="9.2" fill="#2a2a2a" stroke="#2a2a2a" stroke-width="0.15">1.0</text><text x="302.60" y="502.57" text-anchor="end" font-family="Liberation Sans, sans-serif" font-size="9.2" fill="#2a2a2a" stroke="#2a2a2a" stroke-width="0.15">1.5</text><text x="302.60" y="452.20" text-anchor="end" font-family="Liberation Sans, sans-serif" font-size="9.2" fill="#2a2a2a" stroke="#2a2a2a" stroke-width="0.15">2.0</text><text x="311.60" y="666.60" text-anchor="middle" font-family="Liberation Sans, sans-serif" font-size="9.2" fill="#2a2a2a" stroke="#2a2a2a" stroke-width="0.15">0</text><text x="357.50" y="666.60" text-anchor="middle" font-family="Liberation Sans, sans-serif" font-size="9.2" fill="#2a2a2a" stroke="#2a2a2a" stroke-width="0.15">2</text><text x="403.40" y="666.60" text-anchor="middle" font-family="Liberation Sans, sans-serif" font-size="9.2" fill="#2a2a2a" stroke="#2a2a2a" stroke-width="0.15">4</text><text x="449.30" y="666.60" text-anchor="middle" font-family="Liberation Sans, sans-serif" font-size="9.2" fill="#2a2a2a" stroke="#2a2a2a" stroke-width="0.15">6</text><text x="495.20" y="666.60" text-anchor="middle" font-family="Liberation Sans, sans-serif" font-size="9.2" fill="#2a2a2a" stroke="#2a2a2a" stroke-width="0.15">8</text><text x="541.10" y="666.60" text-anchor="middle" font-family="Liberation Sans, sans-serif" font-size="9.2" fill="#2a2a2a" stroke="#2a2a2a" stroke-width="0.15">10</text><text x="412.20" y="682.3" font-size="8.8" font-family="Liberation Sans, sans-serif" font-weight="bold" fill="#111" stroke="#111" stroke-width="0.2"><tspan font-style="italic">P</tspan> (bar)</text><text transform="translate(283.50 572.45) rotate(-90)" font-size="9.2" font-family="Liberation Sans, sans-serif" font-weight="bold" fill="#111" stroke="#111" stroke-width="0.2"><tspan font-style="italic">q</tspan> (mol<tspan dx="0.35">/</tspan><tspan dx="0.35">kg)</tspan></text><text x="317.60" y="462.70" font-size="9.8" textLength="38.9" lengthAdjust="spacingAndGlyphs" font-family="Liberation Sans, sans-serif" font-weight="bold" fill="#111" stroke="#111" stroke-width="0.2">(f) 343 K</text><g fill="#fff" stroke="#9a9a9a" stroke-width="0.9"><circle cx="311.60" cy="651.50" r="3.4"/><circle cx="315.00" cy="649.00" r="3.4"/><circle cx="317.50" cy="647.50" r="3.4"/><circle cx="319.50" cy="645.50" r="3.4"/><circle cx="322.50" cy="643.00" r="3.4"/><circle cx="326.80" cy="640.00" r="3.4"/><circle cx="330.50" cy="636.40" r="3.4"/><circle cx="334.10" cy="632.70" r="3.4"/><circle cx="336.80" cy="630.00" r="3.4"/><circle cx="347.70" cy="620.90" r="3.4"/><circle cx="358.10" cy="613.60" r="3.4"/><circle cx="374.10" cy="602.70" r="3.4"/><circle cx="389.50" cy="592.40" r="3.4"/><circle cx="429.50" cy="567.30" r="3.4"/><circle cx="468.20" cy="545.90" r="3.4"/><circle cx="507.70" cy="525.50" r="3.4"/></g><path d="M311.60 651.00 L311.71 650.84 L311.93 650.53 L312.23 650.10 L312.61 649.58 L313.04 648.98 L313.52 648.32 L314.06 647.58 L314.65 646.80 L315.28 645.96 L315.96 645.07 L316.68 644.14 L317.43 643.17 L318.23 642.16 L319.07 641.12 L319.94 640.04 L320.85 638.94 L321.79 637.81 L322.76 636.64 L323.77 635.46 L324.81 634.25 L325.89 633.02 L326.99 631.77 L328.12 630.49 L329.29 629.20 L330.48 627.89 L331.70 626.56 L332.96 625.22 L334.24 623.86 L335.54 622.48 L336.88 621.10 L338.24 619.69 L339.63 618.28 L341.04 616.85 L342.48 615.42 L343.95 613.97 L345.44 612.51 L346.96 611.04 L348.50 609.56 L350.06 608.07 L351.65 606.58 L353.27 605.08 L354.91 603.57 L356.57 602.05 L358.25 600.53 L359.96 599.00 L361.69 597.47 L363.44 595.93 L365.22 594.39 L367.02 592.84 L368.84 591.29 L370.68 589.74 L372.55 588.18 L374.43 586.62 L376.34 585.06 L378.27 583.50 L380.22 581.93 L382.19 580.37 L384.18 578.80 L386.19 577.23 L388.23 575.66 L390.28 574.10 L392.35 572.53 L394.45 570.96 L396.56 569.40 L398.70 567.83 L400.85 566.27 L403.02 564.71 L405.22 563.15 L407.43 561.59 L409.66 560.03 L411.91 558.48 L414.18 556.93 L416.47 555.38 L418.78 553.83 L421.11 552.29 L423.45 550.76 L425.82 549.22 L428.20 547.69 L430.60 546.16 L433.02 544.64 L435.46 543.12 L437.91 541.61 L440.38 540.10 L442.88 538.60 L445.39 537.10 L447.91 535.60 L450.46 534.11 L453.02 532.63 L455.60 531.15 L458.20 529.68 L460.81 528.21 L463.44 526.75 L466.09 525.29 L468.76 523.84 L471.44 522.40 L474.14 520.96 L476.86 519.53 L479.60 518.10 L482.35 516.68 L485.12 515.27 L487.90 513.86 L490.70 512.46 L493.52 511.06 L496.35 509.68 L499.20 508.30 L502.07 506.92 L504.95 505.55 L507.85 504.19 L510.77 502.84 L513.70 501.49 L516.65 500.15 L519.61 498.81 L522.59 497.49 L525.59 496.17 L528.60 494.85 L531.63 493.55 L534.67 492.25 L537.73 490.95 L540.80 489.67" fill="none" stroke="#000" stroke-width="1.7"/><path d="M311.60 651.00 L311.71 650.82 L311.93 650.46 L312.23 649.98 L312.61 649.40 L313.04 648.73 L313.52 647.98 L314.06 647.17 L314.65 646.30 L315.28 645.38 L315.96 644.42 L316.68 643.41 L317.43 642.36 L318.23 641.28 L319.07 640.16 L319.94 639.01 L320.85 637.84 L321.79 636.63 L322.76 635.40 L323.77 634.15 L324.81 632.88 L325.89 631.58 L326.99 630.26 L328.12 628.93 L329.29 627.57 L330.48 626.20 L331.70 624.81 L332.96 623.40 L334.24 621.98 L335.54 620.55 L336.88 619.10 L338.24 617.64 L339.63 616.16 L341.04 614.67 L342.48 613.17 L343.95 611.66 L345.44 610.14 L346.96 608.61 L348.50 607.07 L350.06 605.52 L351.65 603.96 L353.27 602.40 L354.91 600.83 L356.57 599.25 L358.25 597.66 L359.96 596.07 L361.69 594.48 L363.44 592.88 L365.22 591.27 L367.02 589.66 L368.84 588.05 L370.68 586.43 L372.55 584.81 L374.43 583.19 L376.34 581.56 L378.27 579.94 L380.22 578.31 L382.19 576.68 L384.18 575.05 L386.19 573.42 L388.23 571.79 L390.28 570.16 L392.35 568.54 L394.45 566.91 L396.56 565.28 L398.70 563.65 L400.85 562.03 L403.02 560.41 L405.22 558.79 L407.43 557.17 L409.66 555.56 L411.91 553.94 L414.18 552.33 L416.47 550.73 L418.78 549.13 L421.11 547.53 L423.45 545.93 L425.82 544.34 L428.20 542.76 L430.60 541.18 L433.02 539.60 L435.46 538.03 L437.91 536.46 L440.38 534.90 L442.88 533.34 L445.39 531.79 L447.91 530.24 L450.46 528.70 L453.02 527.16 L455.60 525.63 L458.20 524.11 L460.81 522.59 L463.44 521.08 L466.09 519.58 L468.76 518.08 L471.44 516.59 L474.14 515.10 L476.86 513.62 L479.60 512.15 L482.35 510.68 L485.12 509.22 L487.90 507.77 L490.70 506.33 L493.52 504.89 L496.35 503.46 L499.20 502.03 L502.07 500.62 L504.95 499.21 L507.85 497.80 L510.77 496.41 L513.70 495.02 L516.65 493.64 L519.61 492.26 L522.59 490.90 L525.59 489.54 L528.60 488.19 L531.63 486.84 L534.67 485.51 L537.73 484.18 L540.80 482.85" fill="none" stroke="#000" stroke-width="1.7" stroke-dasharray="3.3 2.2"/><g fill="#45b53c" stroke="#0f2e0c" stroke-width="0.7"><circle cx="311.60" cy="650.90" r="3.45"/><circle cx="313.20" cy="648.50" r="3.45"/><circle cx="315.00" cy="646.40" r="3.45"/><circle cx="316.80" cy="644.00" r="3.45"/><circle cx="318.10" cy="641.80" r="3.45"/><circle cx="320.50" cy="640.00" r="3.45"/><circle cx="324.10" cy="634.90" r="3.45"/><circle cx="329.20" cy="629.50" r="3.45"/><circle cx="335.90" cy="622.40" r="3.45"/><circle cx="344.60" cy="613.10" r="3.45"/><circle cx="357.40" cy="601.50" r="3.45"/><circle cx="374.60" cy="585.80" r="3.45"/><circle cx="398.60" cy="567.30" r="3.45"/><circle cx="431.80" cy="544.50" r="3.45"/><circle cx="477.30" cy="519.50" r="3.45"/><circle cx="540.30" cy="489.50" r="3.45"/></g><path d="M308.30 653.20L311.60 646.60L314.90 653.20ZM309.90 650.52L313.20 643.92L316.50 650.52ZM311.70 648.16L315.00 641.56L318.30 648.16ZM313.50 645.56L316.80 638.96L320.10 645.56ZM314.80 643.23L318.10 636.63L321.40 643.23ZM317.20 641.22L320.50 634.62L323.80 641.22ZM320.80 635.87L324.10 629.27L327.40 635.87ZM325.90 630.18L329.20 623.58L332.50 630.18ZM332.60 622.75L335.90 616.15L339.20 622.75ZM341.30 613.07L344.60 606.47L347.90 613.07ZM354.10 600.97L357.40 594.37L360.70 600.97ZM371.30 584.66L374.60 578.06L377.90 584.66ZM395.30 565.43L398.60 558.83L401.90 565.43ZM428.50 541.78L431.80 535.18L435.10 541.78ZM474.00 515.89L477.30 509.29L480.60 515.89ZM537.00 484.99L540.30 478.39L543.60 484.99Z" fill="#45b53c" stroke="#0f2e0c" stroke-width="0.7"/></g>
<rect x="539.5" y="36.8" width="2.6" height="2.3" fill="#fff"/>
<rect x="539.5" y="506.0" width="2.6" height="4.4" fill="#fff"/>
</svg>
</body></html>
